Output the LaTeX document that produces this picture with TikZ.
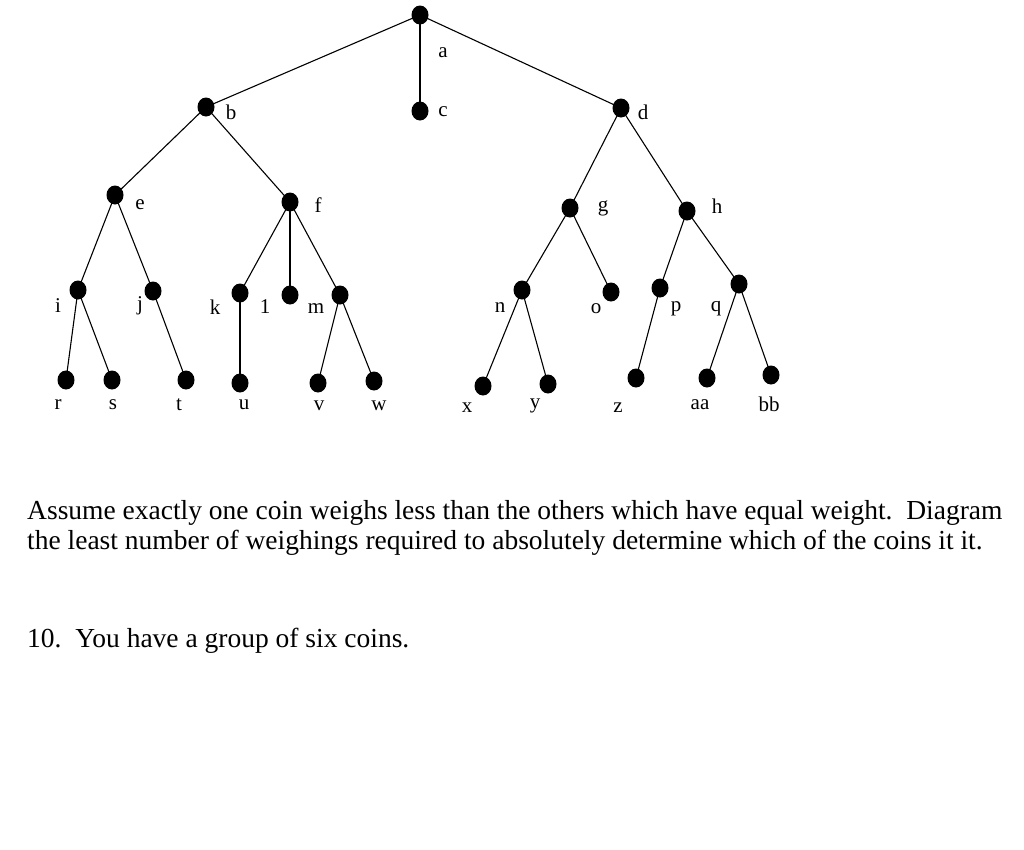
\documentclass[tikz,border=0pt]{standalone}
\usepackage{fontspec}
\usetikzlibrary{shapes.geometric}
\setmainfont{Liberation Serif}
\begin{document}
\begin{tikzpicture}[x=1pt,y=-1pt,
 dot/.style={ellipse,fill=black,minimum width=17pt,minimum height=19pt,inner sep=0pt},
 lbl/.style={font=\fontsize{21}{21}\selectfont,inner sep=0pt},
 txt/.style={font=\fontsize{27.5}{30}\selectfont,anchor=base west,inner sep=0pt},
 edge/.style={line width=1.1pt}]
\useasboundingbox[fill=white] (0,0) rectangle (1024,849);
\foreach \n/\x/\y/\t/\lx/\ly in {
a/420/15/a/443/53, b/206/107/b/231/112, c/420/111/c/443/112, d/621/108/d/643/112,
e/115/195/e/140/205, f/290/202/f/318/205, g/570/208/g/603/208, h/687/211/h/717/206,
i/78/290/i/58/306, j/153/291/j/140/306, k/240/293/k/215/307, l/290/295/1/265/307,
m/340/295/m/316/309, n/522/290/n/500/308, o/611/292/o/596/309, p/660/288/p/676/309,
q/739/284/q/716/309, r/66/380/r/58/405, s/112/380/s/113/405, t/186/380/t/179/405,
u/240/383/u/244/405, v/318/383/v/319/406, w/374/381/w/379/406, x/483/386/x/467/408,
y/548/384/y/535/406, z/636/378/z/618/408, aa/707/378/aa/700/405, bb/771/375/bb/769/404}
{ \node[dot] (\n) at (\x,\y) {}; \node[lbl] (L\n) at (\lx,\ly) {\t}; }
\foreach \p/\c in {a/b,a/c,a/d,b/e,b/f,d/g,d/h,e/i,e/j,f/k,f/l,f/m,g/n,g/o,h/p,h/q,
 i/r,i/s,j/t,k/u,m/v,m/w,n/x,n/y,p/z,q/aa,q/bb}
 \draw[edge] (\p.center) -- (\c.center);
\node[txt] (t1) at (27,519) {Assume exactly one coin weighs less than the others which have equal weight.\ \ Diagram};
\node[txt] (t2) at (27,549) {the least number of weighings required to absolutely determine which of the coins it it.};
\node[txt] (t3) at (27,647) {10.\ \ You have a group of six coins.};
\end{tikzpicture}
\end{document}
